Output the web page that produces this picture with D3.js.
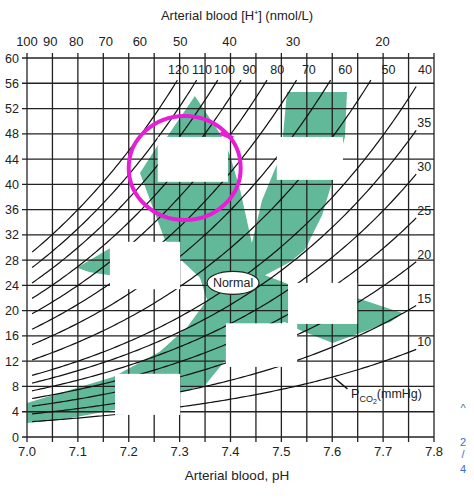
<!DOCTYPE html>
<html><head><meta charset="utf-8">
<script src="https://cdn.jsdelivr.net/npm/d3@7"></script>
<style>body{margin:0;background:#fff}svg{font-family:"Liberation Sans",Arial,sans-serif}</style>
</head><body><svg id="c" width="474" height="500"></svg>
<script>
const phTicks=[7.0,7.1,7.2,7.3,7.4,7.5,7.6,7.7,7.8];
const hco3Ticks=[0,4,8,12,16,20,24,28,32,36,40,44,48,52,56,60];
const hTicks=[100,90,80,70,60,50,40,30,20];
const pco2Top=[120,110,100,90,80,70,60,50];
const pco2Right=[40,35,30,25,20,15,10];
// green region outline (pH, HCO3)
const regionPH=[7.330,7.383,7.399,7.419,7.442,7.462,7.491,7.503,7.511,7.629,7.625,7.601,7.580,7.546,7.517,7.468,7.517,7.649,7.739,7.714,7.601,7.537,7.507,7.438,7.350,7.301,7.173,7.065,7.000,7.000,7.169,7.261,7.315,7.354,7.340,7.307,7.271,7.242,7.222,7.257,7.275];
const regionHCO3=[54.0,47.6,44.6,39.1,30.7,37.5,43.1,47.5,54.6,54.6,47.5,40.7,35.1,29.6,27.7,25.6,24.1,22.0,19.6,18.2,14.9,16.9,18.2,16.9,8.2,7.1,4.3,2.7,2.2,5.4,9.5,13.5,17.4,21.7,25.2,27.7,31.2,37.5,41.8,46.2,47.5];
const smallPH=[7.098,7.163,7.163,7.124];
const smallHCO3=[26.8,29.9,25.6,26.1];
// white masking boxes [pH0,pH1,HCO3top,HCO3bottom]
const boxes=[[7.257,7.395,47.5,40.4],[7.491,7.621,47.5,40.7],[7.163,7.301,30.9,23.4],[7.513,7.649,24.4,17.9],[7.391,7.531,18.0,11.1],[7.173,7.301,10.0,3.5]];

const svg=d3.select("#c");
const x=d3.scaleLinear([7,7.8],[27,434]);
const y=d3.scaleLinear([0,60],[437,58]);
const green="#62b999";

svg.append("path").attr("d",d3.line()(regionPH.map((p,i)=>[x(p),y(regionHCO3[i])]))+"Z").attr("fill",green);
svg.append("path").attr("d",d3.line()(smallPH.map((p,i)=>[x(p),y(smallHCO3[i])]))+"Z").attr("fill",green);

const g=svg.append("g").attr("stroke","#222").attr("stroke-width",1.3);
d3.range(0,17).map(i=>7+i*0.05).forEach(p=>g.append("line").attr("x1",x(p)).attr("x2",x(p)).attr("y1",y(60)-5).attr("y2",y(0)+5));
hco3Ticks.forEach(h=>g.append("line").attr("x1",x(7)-5).attr("x2",x(7.8)).attr("y1",y(h)).attr("y2",y(h)));

const hh=(pc,p)=>0.03*pc*Math.pow(10,p-6.1);
const iso=svg.append("g").attr("fill","none").attr("stroke","#111").attr("stroke-width",1.2);
const allP=pco2Top.concat(pco2Right);
const ends={};
allP.forEach(pc=>{
  const pTop=6.1+Math.log10(56.5/(0.03*pc));
  const pEnd=Math.min(pTop,7.765);
  const pts=d3.range(7.01,pEnd,0.005).concat([pEnd]).map(p=>[x(p),y(hh(pc,p))]);
  iso.append("path").attr("d",d3.line()(pts));
  ends[pc]=[x(pEnd),y(hh(pc,pEnd))];
});

boxes.forEach(b=>svg.append("rect").attr("x",x(b[0])).attr("y",y(b[2])).attr("width",x(b[1])-x(b[0])).attr("height",y(b[3])-y(b[2])).attr("fill","#fff"));

const txt=(t,xx,yy,a,s)=>svg.append("text").attr("x",xx).attr("y",yy).attr("text-anchor",a||"middle").attr("font-size",s||12.5).attr("fill","#222").text(t);
pco2Top.forEach(pc=>{const e=ends[pc][0];txt(pc,pc===120?e+1:e+4+0.07*(e-178),74,"middle");});
pco2Right.forEach(pc=>{const e=ends[pc];txt(pc,pc===40?425:e[0]+1,pc===40?74:e[1]-3,pc===40?"middle":"start");});

hco3Ticks.forEach(h=>txt(h,19,y(h)+4.5,"end"));
phTicks.forEach(p=>txt(p.toFixed(1),x(p),456,"middle",13));
hTicks.forEach(h=>txt(h,x(9-Math.log10(h)),46,"middle",13));
txt("Arterial blood [H\u207A] (nmol/L)",237,20,"middle",13);
txt("Arterial blood, pH",237,480,"middle",13.5);

svg.append("ellipse").attr("cx",x(7.405)).attr("cy",y(24.4)).attr("rx",26).attr("ry",11.5).attr("fill","#fff").attr("stroke","#222").attr("stroke-width",1.2);
txt("Normal",x(7.405),y(24.4)+4.5,"middle",12.5);

svg.append("line").attr("x1",x(7.63)).attr("y1",y(7.6)).attr("x2",x(7.605)).attr("y2",y(9.3)).attr("stroke","#111").attr("stroke-width",1.5);
const pt=svg.append("text").attr("x",x(7.637)).attr("y",y(6.2)).attr("font-size",12.5).attr("fill","#222");
pt.append("tspan").text("P");
pt.append("tspan").attr("font-size",9).attr("dy",4).text("CO");
pt.append("tspan").attr("font-size",7).attr("dy",2).text("2");
pt.append("tspan").attr("dy",-6).text("(mmHg)");

svg.append("ellipse").attr("cx",x(7.31)).attr("cy",y(42.6)).attr("rx",56).attr("ry",52).attr("fill","none").attr("stroke","#e61ed6").attr("stroke-width",4);
svg.append("path").attr("d",`M${x(7.38)},${y(48.1)} L${x(7.405)},${y(47.3)}`).attr("stroke","#e61ed6").attr("stroke-width",4);

[["^",412],["2",446],["/",458],["4",473]].forEach(d=>svg.append("text").attr("x",463).attr("y",d[1]).attr("text-anchor","middle").attr("font-size",11).attr("fill","#3a6fc4").text(d[0]));
</script></body></html>
